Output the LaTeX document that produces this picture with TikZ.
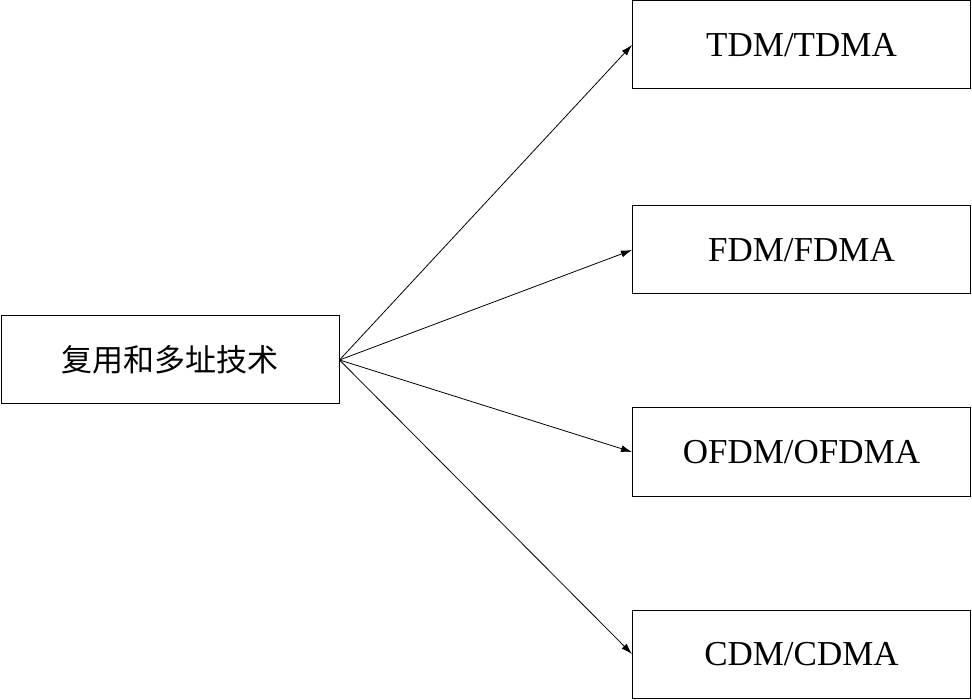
\documentclass[tikz,border=0pt]{standalone}
\usepackage{fontspec}
\setmainfont{Liberation Serif}
\newfontfamily\cjk{Noto Sans CJK SC}
\usetikzlibrary{arrows.meta}
\begin{document}
\begin{tikzpicture}[x=1pt,y=-1pt,
  box/.style={draw,line width=1pt,minimum width=338pt,minimum height=88pt,inner sep=0pt,font=\fontsize{35pt}{40pt}\selectfont},
  conn/.style={line width=0.8pt,-{Latex[length=11pt,width=7pt]}}]
\useasboundingbox (0,0) rectangle (972,700);
\node[box,font=\cjk\fontsize{31pt}{36pt}\selectfont] (src) at (170,360) {复用和多址技术};
\node[box] (a) at (801.5,45) {TDM/TDMA};
\node[box] (b) at (801.5,250) {FDM/FDMA};
\node[box] (c) at (801.5,452) {OFDM/OFDMA};
\node[box] (d) at (801.5,654) {CDM/CDMA};
\foreach \t in {a,b,c,d} \draw[conn] (src.east) -- (\t.west);
\end{tikzpicture}
\end{document}
